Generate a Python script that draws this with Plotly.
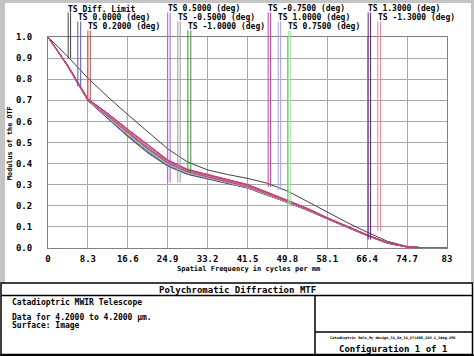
import plotly.graph_objects as go

# ---------------- data ----------------
freq_diff = [0, 4, 8.3, 12.5, 16.6, 20.8, 24.9, 29, 33.2, 37.4, 41.5, 45.6, 49.8, 54, 58.1, 62.3, 66.4, 70.6, 74.7, 78.9, 83]
diff_limit = [1.0, 0.91, 0.805, 0.715, 0.632, 0.548, 0.47, 0.408, 0.37, 0.348, 0.33, 0.307, 0.27, 0.22, 0.17, 0.12, 0.075, 0.032, 0.007, 0.0, 0.0]

freq = [0, 4, 8.3, 12.5, 16.6, 20.8, 24.9, 29, 33.2, 37.4, 41.5, 45.6, 49.8, 54, 58.1, 62.3, 66.4, 70.6, 74.7, 78.9, 83]

f_p000_T = [1.0, 0.868, 0.705, 0.630, 0.553, 0.478, 0.410, 0.366, 0.342, 0.319, 0.295, 0.260, 0.223, 0.184, 0.141, 0.100, 0.061, 0.025, 0.006, 0.0, 0.0]
f_p000_S = [1.0, 0.868, 0.705, 0.631, 0.554, 0.479, 0.411, 0.367, 0.343, 0.320, 0.296, 0.260, 0.223, 0.184, 0.141, 0.100, 0.061, 0.025, 0.006, 0.0, 0.0]
f_p020_T = [1.0, 0.868, 0.705, 0.635, 0.560, 0.485, 0.415, 0.370, 0.345, 0.322, 0.298, 0.262, 0.225, 0.185, 0.142, 0.100, 0.062, 0.025, 0.006, 0.0, 0.0]
f_p020_S = [1.0, 0.867, 0.703, 0.628, 0.550, 0.475, 0.408, 0.364, 0.340, 0.317, 0.293, 0.258, 0.221, 0.183, 0.140, 0.099, 0.060, 0.024, 0.005, 0.0, 0.0]
f_p050_T = [1.0, 0.866, 0.702, 0.625, 0.546, 0.470, 0.404, 0.361, 0.337, 0.315, 0.291, 0.257, 0.221, 0.182, 0.140, 0.099, 0.060, 0.024, 0.005, 0.0, 0.0]
f_p050_S = [1.0, 0.867, 0.703, 0.627, 0.549, 0.473, 0.406, 0.363, 0.339, 0.316, 0.292, 0.258, 0.222, 0.183, 0.140, 0.099, 0.060, 0.024, 0.005, 0.0, 0.0]
f_m050_T = [1.0, 0.866, 0.702, 0.624, 0.545, 0.469, 0.403, 0.360, 0.336, 0.314, 0.290, 0.256, 0.220, 0.182, 0.139, 0.099, 0.060, 0.024, 0.005, 0.0, 0.0]
f_m050_S = [1.0, 0.867, 0.703, 0.626, 0.548, 0.472, 0.405, 0.362, 0.338, 0.316, 0.292, 0.257, 0.221, 0.183, 0.140, 0.099, 0.060, 0.024, 0.005, 0.0, 0.0]
f_m100_T = [1.0, 0.865, 0.700, 0.615, 0.532, 0.455, 0.392, 0.352, 0.330, 0.309, 0.286, 0.252, 0.217, 0.179, 0.138, 0.098, 0.059, 0.023, 0.005, 0.0, 0.0]
f_m100_S = [1.0, 0.866, 0.701, 0.620, 0.540, 0.463, 0.398, 0.357, 0.334, 0.312, 0.289, 0.255, 0.219, 0.181, 0.139, 0.098, 0.059, 0.023, 0.005, 0.0, 0.0]
f_m075_T = [1.0, 0.869, 0.706, 0.636, 0.562, 0.487, 0.417, 0.372, 0.347, 0.324, 0.300, 0.264, 0.227, 0.187, 0.143, 0.101, 0.062, 0.026, 0.006, 0.0, 0.0]
f_m075_S = [1.0, 0.868, 0.704, 0.629, 0.552, 0.477, 0.409, 0.365, 0.341, 0.318, 0.294, 0.259, 0.222, 0.183, 0.141, 0.100, 0.061, 0.025, 0.006, 0.0, 0.0]
f_p100_T = [1.0, 0.866, 0.701, 0.618, 0.537, 0.460, 0.396, 0.355, 0.332, 0.310, 0.287, 0.253, 0.218, 0.180, 0.138, 0.098, 0.059, 0.023, 0.005, 0.0, 0.0]
f_p100_S = [1.0, 0.867, 0.702, 0.622, 0.543, 0.466, 0.400, 0.358, 0.335, 0.313, 0.290, 0.255, 0.220, 0.181, 0.139, 0.098, 0.059, 0.023, 0.005, 0.0, 0.0]
f_p075_T = [1.0, 0.866, 0.701, 0.619, 0.539, 0.462, 0.397, 0.356, 0.333, 0.311, 0.288, 0.254, 0.218, 0.180, 0.138, 0.098, 0.059, 0.023, 0.005, 0.0, 0.0]
f_p075_S = [1.0, 0.867, 0.702, 0.623, 0.544, 0.467, 0.401, 0.359, 0.336, 0.314, 0.290, 0.256, 0.220, 0.182, 0.139, 0.099, 0.060, 0.024, 0.005, 0.0, 0.0]
f_p130_T = [1.0, 0.864, 0.698, 0.612, 0.528, 0.450, 0.388, 0.349, 0.327, 0.306, 0.284, 0.250, 0.216, 0.178, 0.137, 0.097, 0.058, 0.023, 0.005, 0.0, 0.0]
f_p130_S = [1.0, 0.865, 0.700, 0.617, 0.535, 0.458, 0.394, 0.354, 0.331, 0.309, 0.286, 0.252, 0.217, 0.179, 0.138, 0.098, 0.059, 0.023, 0.005, 0.0, 0.0]
f_m130_T = [1.0, 0.869, 0.707, 0.637, 0.563, 0.488, 0.418, 0.373, 0.348, 0.325, 0.301, 0.265, 0.228, 0.188, 0.144, 0.102, 0.063, 0.026, 0.006, 0.0, 0.0]
f_m130_S = [1.0, 0.868, 0.704, 0.630, 0.553, 0.478, 0.410, 0.366, 0.342, 0.319, 0.295, 0.260, 0.223, 0.184, 0.141, 0.100, 0.061, 0.025, 0.006, 0.0, 0.0]

x_ticks = [0, 8.3, 16.6, 24.9, 33.2, 41.5, 49.8, 58.1, 66.4, 74.7, 83]
x_tick_labels = ["0", "8.3", "16.6", "24.9", "33.2", "41.5", "49.8", "58.1", "66.4", "74.7", "83"]
y_ticks = [0.0, 0.1, 0.2, 0.3, 0.4, 0.5, 0.6, 0.7, 0.8, 0.9, 1.0]
y_tick_labels = ["0.0", "0.1", "0.2", "0.3", "0.4", "0.5", "0.6", "0.7", "0.8", "0.9", "1.0"]

legend_labels = ["TS Diff. Limit", "TS 0.0000 (deg)", "TS 0.2000 (deg)", "TS 0.5000 (deg)",
                 "TS -0.5000 (deg)", "TS -1.0000 (deg)", "TS -0.7500 (deg)", "TS 1.0000 (deg)",
                 "TS 0.7500 (deg)", "TS 1.3000 (deg)", "TS -1.3000 (deg)"]
legend_x_T = [4.2, 6.2, 8.3, 24.9, 27.0, 29.1, 45.8, 47.9, 50.0, 66.6, 68.6]
legend_x_S = [4.7, 6.8, 8.8, 25.4, 27.5, 29.7, 46.3, 48.4, 50.4, 67.1, 69.2]
legend_end = [0.90, 0.765, 0.70, 0.31, 0.31, 0.36, 0.29, 0.275, 0.20, 0.04, 0.08]
legend_row = [0, 1, 2, 0, 1, 2, 0, 1, 2, 0, 1]
legend_colors = ["#404040", "#5858b8", "#c04848", "#a860d8", "#989898", "#3a8a3a",
                 "#c84090", "#a0a0ec", "#9ce09c", "#5a2080", "#f07898"]

# field curves (series, colour), drawn in this order
fields = [
    (f_p130_T, "#5a2080"), (f_p130_S, "#5a2080"),
    (f_m100_T, "#3a8a3a"), (f_m100_S, "#3a8a3a"),
    (f_p100_T, "#a0a0ec"), (f_p100_S, "#4aa090"),
    (f_p075_T, "#9ce09c"), (f_p075_S, "#60a890"),
    (f_m050_T, "#989898"), (f_m050_S, "#989898"),
    (f_p050_T, "#a860d8"), (f_p050_S, "#a860d8"),
    (f_p000_T, "#5858b8"), (f_p000_S, "#5858b8"),
    (f_p020_S, "#c04848"), (f_m075_S, "#c84090"), (f_m130_S, "#f07898"),
    (f_p020_T, "#c04848"), (f_m075_T, "#c84090"), (f_m130_T, "#e8306a"),
]

# ---------------- layout helpers (pixel -> paper) ----------------
W, H = 474, 356
L, R, T, B = 48, 447, 37, 248

def px(x):
    return (x - L) / (R - L)

def py(y):
    return (B - y) / (B - T)

MONO = "DejaVu Sans Mono"

def fnt(size):
    return dict(family=MONO, size=size, color="black", weight="bold")

fig = go.Figure()

fig.add_trace(go.Scatter(x=freq_diff, y=diff_limit, mode="lines",
                         line=dict(color="#404040", width=1), hoverinfo="skip", showlegend=False))
for vals, col in fields:
    fig.add_trace(go.Scatter(x=freq, y=vals, mode="lines",
                             line=dict(color=col, width=1), hoverinfo="skip", showlegend=False))

shapes = []
annotations = []
row_text_y = [8.5, 17.5, 26.5]
row_line_top = [12.5, 21.5, 30.5]
for lab, xt, xs, ye, rw, col in zip(legend_labels, legend_x_T, legend_x_S, legend_end, legend_row, legend_colors):
    for xv in (xt, xs):
        shapes.append(dict(type="line", xref="x", yref="y", x0=xv, x1=xv, y0=ye, y1=1.0,
                           line=dict(color=col, width=1)))
        shapes.append(dict(type="line", xref="x", yref="paper", x0=xv, x1=xv, y0=1.0, y1=py(row_line_top[rw]),
                           line=dict(color=col, width=1)))
    annotations.append(dict(text=lab, xref="x", yref="paper", x=xt, y=py(row_text_y[rw]),
                            xanchor="left", yanchor="middle", xshift=-2, showarrow=False,
                            font=fnt(8)))

# window border (light gray)
border = "#c4c4c4"
shapes += [
    dict(type="rect", xref="paper", yref="paper", x0=px(0), x1=px(5), y0=py(283), y1=py(0),
         fillcolor=border, line=dict(width=0), layer="below"),
    dict(type="rect", xref="paper", yref="paper", x0=px(471), x1=px(474), y0=py(283), y1=py(0),
         fillcolor=border, line=dict(width=0), layer="below"),
    dict(type="rect", xref="paper", yref="paper", x0=px(0), x1=px(474), y0=py(3), y1=py(0),
         fillcolor=border, line=dict(width=0), layer="below"),
]
# info box
blk = dict(color="black", width=1.5)
shapes += [
    dict(type="rect", xref="paper", yref="paper", x0=px(1), x1=px(472.5), y0=py(354.5), y1=py(283),
         line=blk, fillcolor="rgba(0,0,0,0)"),
    dict(type="line", xref="paper", yref="paper", x0=px(1), x1=px(472.5), y0=py(295.5), y1=py(295.5), line=blk),
    dict(type="line", xref="paper", yref="paper", x0=px(315), x1=px(315), y0=py(354.5), y1=py(295.5), line=blk),
    dict(type="line", xref="paper", yref="paper", x0=px(315), x1=px(472.5), y0=py(332), y1=py(332), line=blk),
    dict(type="rect", xref="paper", yref="paper", x0=px(0), x1=px(474), y0=py(356), y1=py(354.5),
         fillcolor="black", line=dict(width=0)),
]

def txt(s, x, y, size, xanchor="center", angle=0):
    return dict(text=s, xref="paper", yref="paper", x=px(x), y=py(y), xanchor=xanchor, yanchor="middle",
                showarrow=False, textangle=angle, font=fnt(size))

annotations += [
    txt("Spatial Frequency in cycles per mm", 248.5, 269, 7),
    txt("Modulus of the OTF", 10, 143, 6.8, angle=-90),
    txt("Polychromatic Diffraction MTF", 237, 289.5, 9),
    txt("Catadioptric MWIR Telescope", 10, 302, 8, xanchor="left"),
    txt("Data for 4.2000 to 4.2000 µm.", 10, 317, 8, xanchor="left"),
    txt("Surface: Image", 10, 325, 8, xanchor="left"),
    txt("Catadioptric Relo_My design_Si_Ge_Si_EFL600_EXH 1_5deg.ZMX", 393, 338, 3.6),
    txt("Configuration 1 of 1", 393, 348.5, 9),
]

axis_common = dict(showgrid=True, gridcolor="#a8a8a8", gridwidth=1, showline=True, linecolor="#808080",
                   linewidth=1, mirror=True, zeroline=False, ticks="",
                   tickfont=fnt(9), fixedrange=True)

fig.update_layout(
    width=W, height=H,
    margin=dict(l=L, r=W - R, t=T, b=H - B, pad=0),
    paper_bgcolor="white", plot_bgcolor="white",
    xaxis=dict(range=[0, 83], tickmode="array", tickvals=x_ticks, ticktext=x_tick_labels,
               ticklabelstandoff=2, **axis_common),
    yaxis=dict(range=[0, 1], tickmode="array", tickvals=y_ticks, ticktext=y_tick_labels,
               ticklabelstandoff=13, **axis_common),
    shapes=shapes,
    annotations=annotations,
    showlegend=False,
)

fig.write_html("out.html", config={"displayModeBar": False},
               post_script="document.body.style.margin='0px';document.body.style.overflow='hidden';")
